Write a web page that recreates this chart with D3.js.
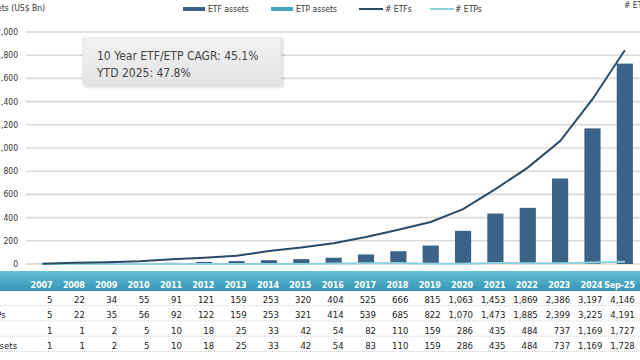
<!DOCTYPE html>
<html><head><meta charset="utf-8">
<script src="https://cdn.jsdelivr.net/npm/d3@7"></script>
<style>
html,body{margin:0;padding:0;background:#fff;}
svg{display:block;font-family:"DejaVu Sans Condensed","DejaVu Sans",sans-serif;font-stretch:semi-condensed;}
.hd{font-family:"DejaVu Sans Condensed","DejaVu Sans",sans-serif;font-stretch:condensed;letter-spacing:-0.15px;}
</style></head>
<body>
<svg id="c" width="640" height="360"></svg>
<script>
const years = ["2007","2008","2009","2010","2011","2012","2013","2014","2015","2016","2017","2018","2019","2020","2021","2022","2023","2024","Sep-25"];
const etfCount = [5,22,34,55,91,121,159,253,320,404,525,666,815,1063,1453,1869,2386,3197,4146];
const etfEtpCount = [5,22,35,56,92,122,159,253,321,414,539,685,822,1070,1473,1885,2399,3225,4191];
const etfAssets = [1,1,2,5,10,18,25,33,42,54,82,110,159,286,435,484,737,1169,1727];
const etfEtpAssets = [1,1,2,5,10,18,25,33,42,54,83,110,159,286,435,484,737,1169,1728];
const leftTicks = [0,200,400,600,800,1000,1200,1400,1600,1800,2000];
const rowLabels = ["# ETFs","# ETFs/ETPs","ETF assets","ETF/ETP assets"];
const legendLabels = ["ETF assets","ETP assets","# ETFs","# ETPs"];
const noteLines = ["10 Year ETF/ETP CAGR: 45.1%","YTD 2025: 47.8%"];

const C = {bar:"#3b6387", etp:"#45a6c2", line:"#2b4a68", line2:"#90d0dc", grid:"#dadada", text:"#333"};
const svg = d3.select("#c");
const defs = svg.append("defs");
const hg = defs.append("linearGradient").attr("id","hg").attr("x1",0).attr("y1",0).attr("x2",0).attr("y2",1);
hg.append("stop").attr("offset","0%").attr("stop-color","#66c0d6");
hg.append("stop").attr("offset","100%").attr("stop-color","#3394b4");
const bg = defs.append("linearGradient").attr("id","bg").attr("x1",0).attr("y1",0).attr("x2",0).attr("y2",1);
bg.append("stop").attr("offset","0%").attr("stop-color","#f3f3f3");
bg.append("stop").attr("offset","100%").attr("stop-color","#e3e3e3");
const f = defs.append("filter").attr("id","sh").attr("x","-10%").attr("y","-20%").attr("width","130%").attr("height","150%");
f.append("feDropShadow").attr("dx",1.5).attr("dy",1.5).attr("stdDeviation",1.5).attr("flood-color","#000").attr("flood-opacity",0.18);

const x = d3.scaleBand().domain(years).range([26.3,641]).paddingInner(0.5).paddingOuter(0.25);
const yL = d3.scaleLinear().domain([0,2000]).range([264,32]);
const yR = d3.scaleLinear().domain([0,4500]).range([264,32]);
const cx = d => x(d)+x.bandwidth()/2;

// gridlines
svg.append("g").selectAll("line").data(leftTicks).join("line")
  .attr("x1",26).attr("x2",640).attr("y1",d=>yL(d)).attr("y2",d=>yL(d))
  .attr("stroke",C.grid).attr("stroke-width",1.6);
svg.append("g").selectAll("text").data(leftTicks).join("text")
  .attr("x",18).attr("y",d=>yL(d)+3).attr("text-anchor","end")
  .attr("font-size",8.5).attr("fill",C.text).text(d=>d3.format(",")(d));

// axis titles
svg.append("text").attr("x",45).attr("y",11).attr("text-anchor","end").attr("font-size",8.5).attr("fill",C.text).text("Assets (US$ Bn)");
svg.append("text").attr("x",624).attr("y",8).attr("font-size",8.5).attr("fill",C.text).text("# ETFs");

// bars
svg.append("g").selectAll("rect").data(years).join("rect")
  .attr("x",d=>x(d)).attr("width",x.bandwidth())
  .attr("y",(d,i)=>yL(etfAssets[i])).attr("height",(d,i)=>yL(0)-yL(etfAssets[i]))
  .attr("fill",C.bar);
svg.append("g").selectAll("rect").data(years).join("rect")
  .attr("x",d=>x(d)).attr("width",x.bandwidth())
  .attr("y",(d,i)=>yL(etfEtpAssets[i])).attr("height",(d,i)=>yL(etfAssets[i])-yL(etfEtpAssets[i]))
  .attr("fill",C.etp);

// lines
const etpOnly = etfEtpCount.map((v,i)=>v-etfCount[i]);
const lg = d3.line().x((d,i)=>cx(years[i])).y(d=>yR(d));
svg.append("path").attr("d",lg(etpOnly)).attr("fill","none").attr("stroke",C.line2).attr("stroke-width",2);
svg.append("path").attr("d",lg(etfCount)).attr("fill","none").attr("stroke",C.line).attr("stroke-width",2);

// legend
const lgX = [183,271,359,430];
const lgT = [208,296,385,455];
legendLabels.forEach((t,i)=>{
  if(i<2) svg.append("rect").attr("x",lgX[i]).attr("y",7).attr("width",22).attr("height",4).attr("fill",i===0?C.bar:C.etp);
  else svg.append("line").attr("x1",lgX[i]).attr("x2",lgX[i]+24).attr("y1",9).attr("y2",9).attr("stroke",i===2?C.line:C.line2).attr("stroke-width",2);
  svg.append("text").attr("x",lgT[i]).attr("y",12).attr("font-size",8.5).attr("fill",C.text).text(t);
});

// annotation box
svg.append("rect").attr("x",83).attr("y",38).attr("width",198).attr("height",47).attr("fill","url(#bg)").attr("stroke","#e0e0e0").attr("filter","url(#sh)");
noteLines.forEach((t,i)=>svg.append("text").attr("x",97).attr("y",60+i*17).attr("font-size",12).attr("fill","#444").text(t));

// table
svg.append("rect").attr("x",0).attr("y",271).attr("width",640).attr("height",20).attr("fill","url(#hg)");
svg.append("g").selectAll("text").data(years).join("text")
  .attr("class","hd")
  .attr("x",d=>cx(d)+10).attr("y",288).attr("text-anchor","end")
  .attr("font-size",9).attr("font-weight","bold").attr("fill","#fff").text(d=>d);
const rows = [etfCount, etfEtpCount, etfAssets, etfEtpAssets];
rows.forEach((r,ri)=>{
  const by = 303 + ri*15.3;
  svg.append("line").attr("x1",0).attr("x2",640).attr("y1",by+2.6).attr("y2",by+2.6)
    .attr("stroke","#d0d0d0").attr("stroke-width",1).attr("stroke-dasharray","1,1");
  svg.append("text").attr("x",-47).attr("y",by).attr("font-size",9.5).attr("fill","#222").text(rowLabels[ri]);
  svg.append("g").selectAll("text").data(r).join("text")
    .attr("x",(d,i)=>cx(years[i])+10).attr("y",by).attr("text-anchor","end")
    .attr("font-size",9.5).attr("fill","#222").text(d=>d3.format(",")(d));
});
</script>
</body></html>
